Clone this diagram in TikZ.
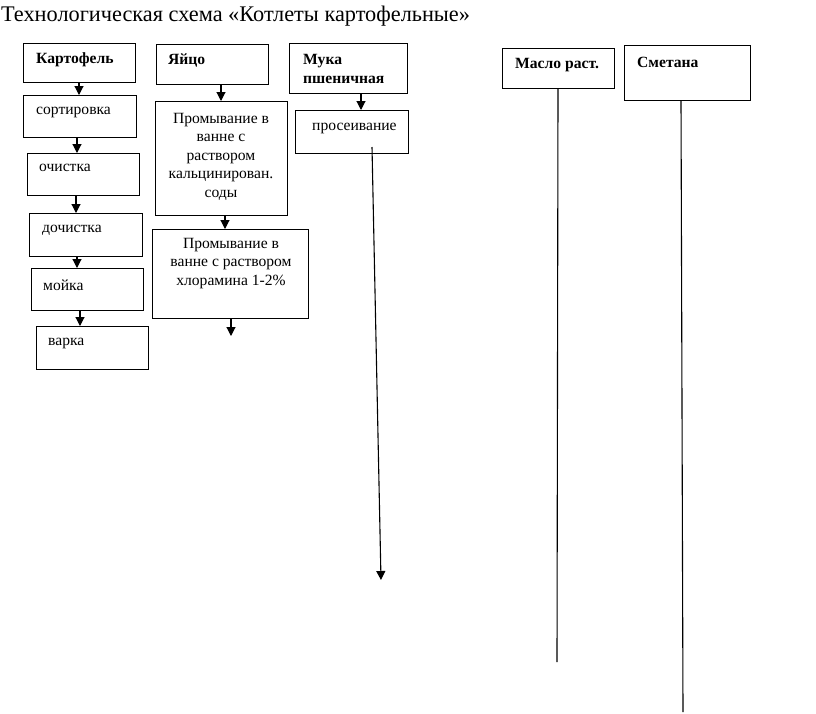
\documentclass[tikz,border=0pt]{standalone}
\usepackage{fontspec}
\setmainfont{Liberation Serif}
\usetikzlibrary{arrows.meta}
\begin{document}
\begin{tikzpicture}[x=1pt,y=-1pt,
  box/.style={draw, line width=1.1pt, anchor=north west, inner sep=0pt},
  lbl/.style={anchor=west, inner sep=0pt, font=\fontsize{15.6}{18}\selectfont},
  blbl/.style={anchor=west, inner sep=0pt, font=\fontsize{15.6}{19}\selectfont\bfseries, align=left},
  ctext/.style={anchor=north, inner sep=0pt, align=center, font=\fontsize{15.6}{18.5}\selectfont},
  arr/.style={line width=1.1pt, -{Triangle[width=9pt,length=9pt]}},
  ln/.style={line width=1.1pt}]
\useasboundingbox (0,0) rectangle (816,713);
\node[anchor=base west, inner sep=0pt, font=\fontsize{22.3}{26}\selectfont] (title) at (1,21) {Технологическая схема «Котлеты картофельные»};
% boxes
\node[box, minimum width=112pt, minimum height=39pt] (kart) at (23,43) {};
\node[box, minimum width=113pt, minimum height=42pt] (sort) at (23,95) {};
\node[box, minimum width=112pt, minimum height=42pt] (och) at (27,153) {};
\node[box, minimum width=113pt, minimum height=43pt] (doch) at (29,213) {};
\node[box, minimum width=112pt, minimum height=42pt] (moy) at (31,268) {};
\node[box, minimum width=112pt, minimum height=43pt] (var) at (36,326) {};
\node[box, minimum width=112pt, minimum height=40pt] (egg) at (156,44) {};
\node[box, minimum width=132pt, minimum height=114pt] (wash1) at (155,101) {};
\node[box, minimum width=156pt, minimum height=89pt] (wash2) at (152,229) {};
\node[box, minimum width=118pt, minimum height=50pt] (flour) at (289,43) {};
\node[box, minimum width=113pt, minimum height=43pt] (sieve) at (295,110) {};
\node[box, minimum width=112pt, minimum height=40pt] (oil) at (502,48) {};
\node[box, minimum width=126pt, minimum height=55pt] (cream) at (624,45) {};
% texts
\node[blbl] (tkart) at (36,60) {Картофель};
\node[blbl] (tegg) at (168,60) {Яйцо};
\node[blbl] (tflour) at (303,69) {Мука\\пшеничная};
\node[blbl] (toil) at (515,65) {Масло раст.};
\node[blbl] (tcream) at (637,62) {Сметана};
\node[lbl] (tsort) at (36,112) {сортировка};
\node[lbl] (toch) at (39,168) {очистка};
\node[lbl] (tdoch) at (42,230) {дочистка};
\node[lbl] (tmoy) at (43,285) {мойка};
\node[lbl] (tvar) at (48,343) {варка};
\node[lbl] (tsieve) at (312,128) {просеивание};
\node[ctext] (tw1) at (221,113) {Промывание в\\ванне с\\раствором\\кальцинирован.\\соды};
\node[ctext] (tw2) at (231,238) {Промывание в\\ванне с раствором\\хлорамина 1-2\%};
% connectors
\coordinate (c1) at (231,336);
\coordinate (s0) at (372,147);
\coordinate (s1) at (381,580);
\coordinate (o1) at (557,662);
\coordinate (m1) at (683,712);
\draw[arr] (kart.south -| 79,0) -- (sort.north -| 79,0);
\draw[arr] (sort.south -| 77,0) -- (och.north -| 77,0);
\draw[arr] (och.south -| 76,0) -- (doch.north -| 76,0);
\draw[arr] (doch.south -| 77,0) -- (moy.north -| 77,0);
\draw[arr] (moy.south -| 80,0) -- (var.north -| 80,0);
\draw[arr] (egg.south -| 221,0) -- (wash1.north -| 221,0);
\draw[arr] (wash1.south -| 225,0) -- (wash2.north -| 225,0);
\draw[arr] (wash2.south -| c1) -- (c1);
\draw[arr] (flour.south -| 361,0) -- (sieve.north -| 361,0);
\draw[arr] (s0) -- (s1);
\draw[ln] (oil.south -| 558,0) -- (o1);
\draw[ln] (cream.south -| 681,0) -- (m1);
\end{tikzpicture}
\end{document}
